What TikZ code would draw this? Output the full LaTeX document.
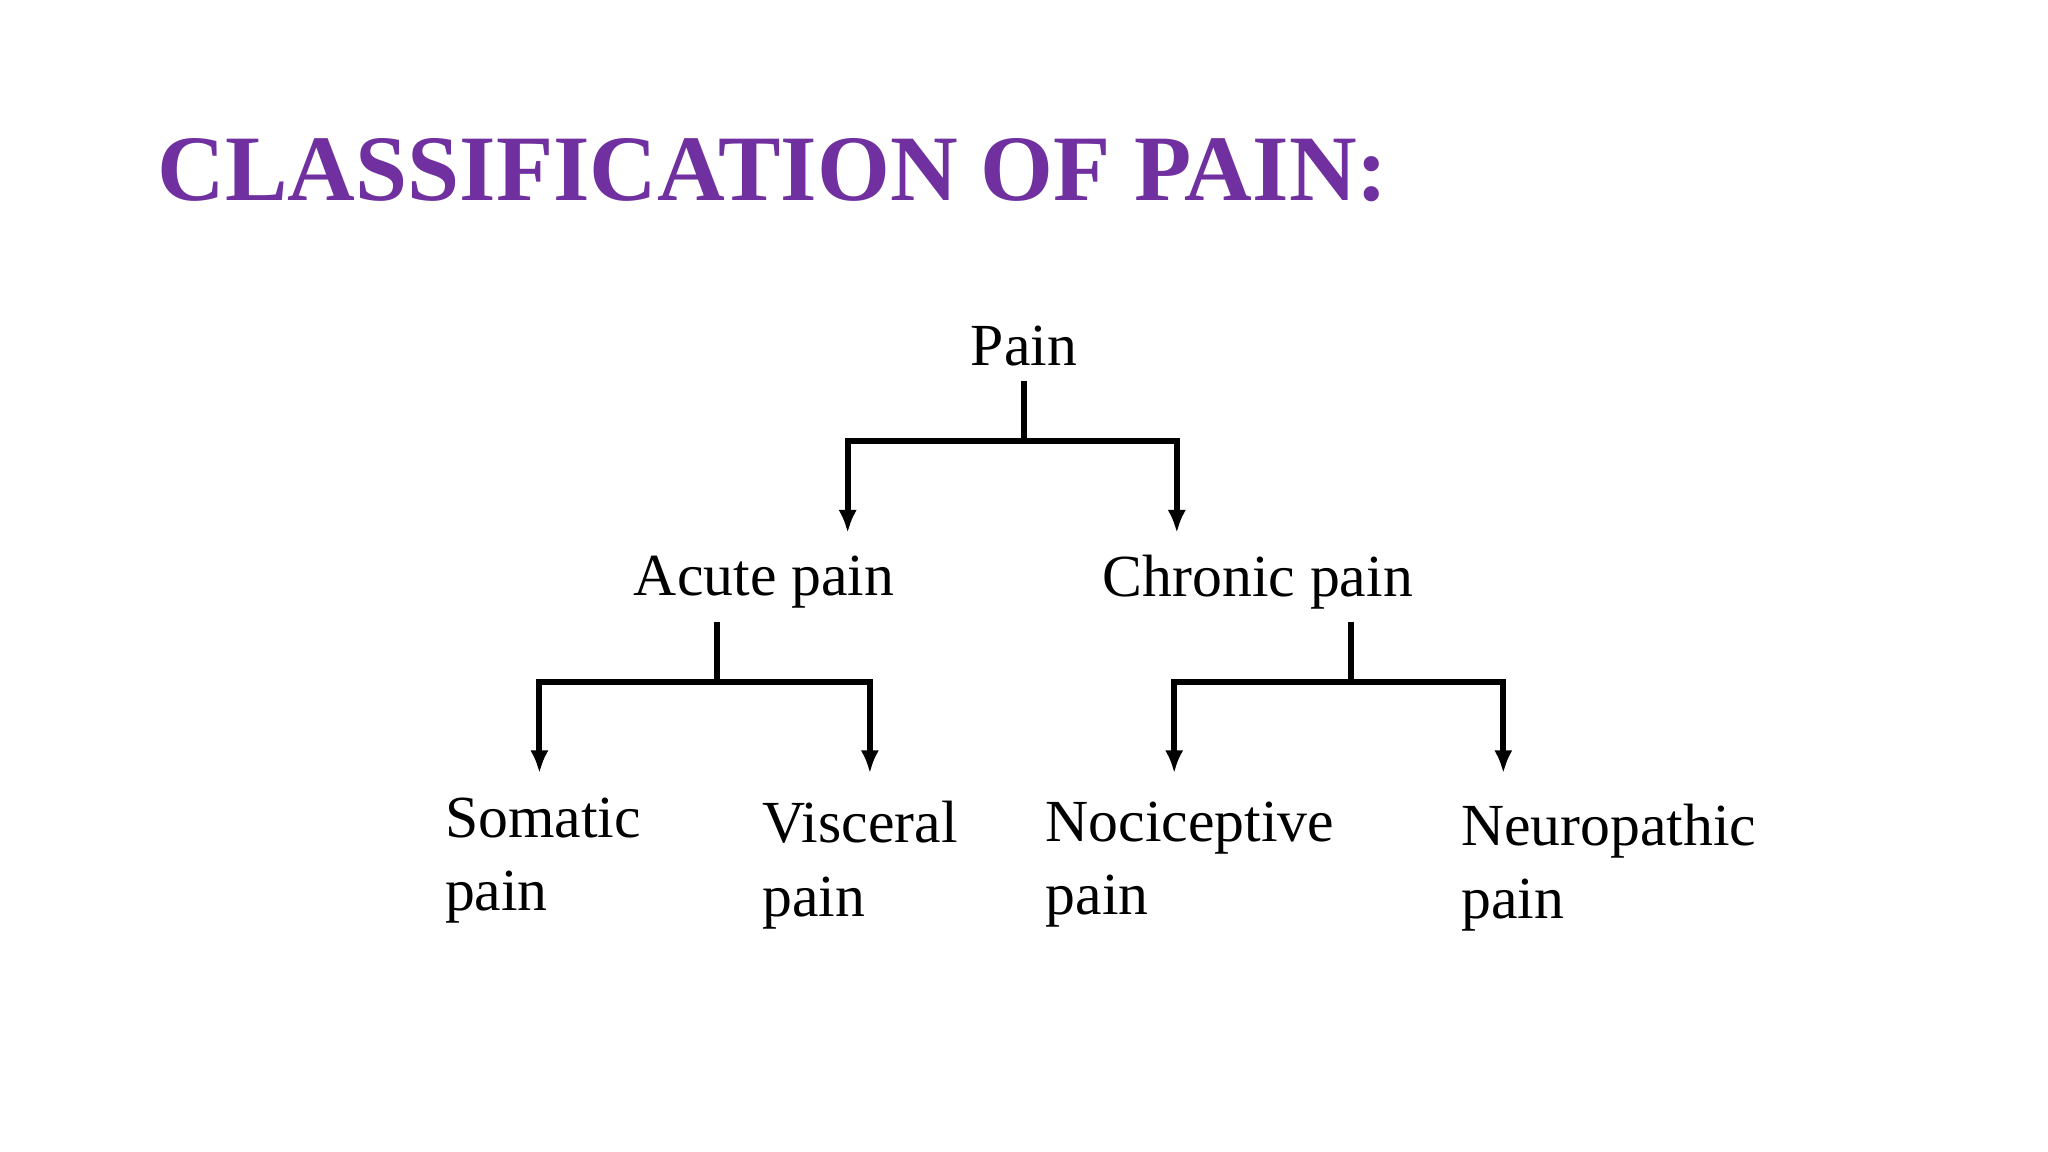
\documentclass[tikz,border=0pt]{standalone}
\usepackage{fontspec}
\setmainfont{Liberation Serif}
\usetikzlibrary{arrows.meta}
\definecolor{titlepurple}{HTML}{7030A0}
\begin{document}
\begin{tikzpicture}[x=0.01cm,y=-0.01cm]
            \tikzset{
            pain node/.style={font=\fontsize{13}{15.9}\selectfont,inner sep=0},
            leaf node/.style={pain node,anchor=north west,align=left},
            pain edge/.style={line width=1.3pt},
            pain arrow/.style={pain edge,-{Latex[length=5pt,width=4pt]}}
            }
            \useasboundingbox (0,0) rectangle (1568,882);
            \node[anchor=west,text=titlepurple,inner sep=0,
                  font=\fontsize{20.4}{24}\selectfont\bfseries] (title) at (120,130) {CLASSIFICATION OF PAIN:};
            \node[pain node] (pain) at (784,265) {Pain};
            \node[pain node] (acute) at (585,446) {Acute pain};
            \node[pain node] (chronic) at (963,446) {Chronic pain};
            \node[leaf node] (somatic) at (340,610) {Somatic\\pain};
            \node[leaf node] (visceral) at (583,613) {Visceral\\pain};
            \node[leaf node] (noci) at (800,613) {Nociceptive\\pain};
            \node[leaf node] (neuro) at (1118,615) {Neuropathic\\pain};
            % junction points and arrow ends
            \coordinate (j1) at (784,338);
            \coordinate (a1) at (649,408);
            \coordinate (c1) at (901,408);
            \coordinate (j2) at (549,522);
            \coordinate (s1) at (413,592);
            \coordinate (v1) at (666,592);
            \coordinate (j3) at (1034,522);
            \coordinate (n1) at (899,592);
            \coordinate (n2) at (1151,592);

            \draw[pain edge] (784,292) -- (j1);
            \draw[pain arrow] (j1) -| (a1);
            \draw[pain arrow] (j1) -| (c1);
            \draw[pain edge] (549,476) -- (j2);
            \draw[pain arrow] (j2) -| (s1);
            \draw[pain arrow] (j2) -| (v1);
            \draw[pain edge] (1034,476) -- (j3);
            \draw[pain arrow] (j3) -| (n1);
            \draw[pain arrow] (j3) -| (n2);
        \end{tikzpicture}
\end{document}
